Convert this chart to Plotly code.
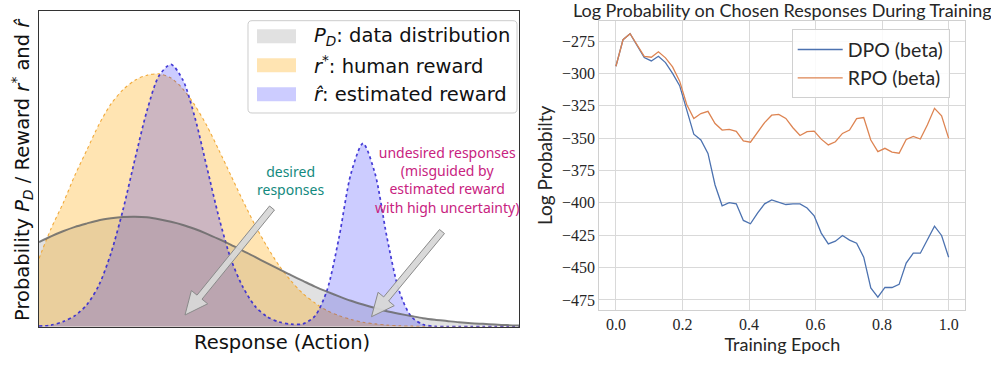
import math
import numpy as np
import plotly.graph_objects as go

W, H = 991, 366

# ---------------- Left panel: conceptual curves (heights) ----------------
response = np.linspace(0, 10, 41)
p_data = [0.268, 0.286, 0.302, 0.316, 0.327, 0.337, 0.343, 0.347, 0.348, 0.346,
          0.340, 0.332, 0.322, 0.309, 0.294, 0.277, 0.259, 0.240, 0.221, 0.201,
          0.182, 0.163, 0.145, 0.127, 0.111, 0.096, 0.082, 0.070, 0.059, 0.049,
          0.041, 0.034, 0.027, 0.022, 0.018, 0.014, 0.011, 0.009, 0.007, 0.005, 0.004]
r_human = [0.216, 0.31, 0.39, 0.48, 0.56, 0.64, 0.705, 0.75, 0.78, 0.796,
           0.800, 0.787, 0.752, 0.70, 0.635, 0.558, 0.478, 0.398, 0.322, 0.254,
           0.194, 0.145, 0.105, 0.075, 0.051, 0.035, 0.023, 0.014, 0.009, 0.005,
           0.003, 0.002, 0.001, 0, 0, 0, 0, 0, 0, 0, 0]
r_est = [0.002, 0.005, 0.016, 0.035, 0.07, 0.132, 0.233, 0.37, 0.531, 0.684,
         0.794, 0.83, 0.78, 0.661, 0.503, 0.345, 0.213, 0.125, 0.065, 0.032,
         0.015, 0.008, 0.009, 0.034, 0.115, 0.282, 0.485, 0.58, 0.485, 0.282,
         0.115, 0.033, 0.007, 0.001, 0, 0, 0, 0, 0, 0, 0]

# ---------------- Right panel: log probability during training ----------------
epoch = np.arange(48) / 47
dpo_logp = [-294.5, -274, -269.4, -278.5, -287.8, -290.4, -286.8, -291.7, -300, -309.5,
            -329, -347, -351.5, -361.8, -386.2, -402.3, -399.8, -400.8, -413.6, -416.2,
            -408, -400.8, -397.7, -399.8, -401.3, -400.8, -400.8, -404, -410, -423.4,
            -431.7, -429.6, -425.2, -428.8, -431.2, -442, -465.8, -472.8, -465.4, -465.4,
            -463, -446.6, -438.9, -438.9, -428.6, -418, -425.2, -442.1]
rpo_logp = [-294.5, -274, -269.4, -278.5, -286.8, -287.5, -283.3, -288, -295, -306,
            -324, -334.8, -331, -329.3, -338.7, -343.8, -343.2, -344.8, -352.2, -353.2,
            -345.3, -338, -332.3, -331.7, -334.8, -342, -348, -345, -344.6, -350.8,
            -355.3, -352.8, -346.4, -343.8, -335, -334.1, -351.5, -360.5, -357.9, -360.8,
            -361.7, -351, -348.7, -350.7, -339.7, -327, -332.8, -350.2]
x_ticks = [0.0, 0.2, 0.4, 0.6, 0.8, 1.0]
x_ticklabels = ["0.0", "0.2", "0.4", "0.6", "0.8", "1.0"]
y_ticks = [-275, -300, -325, -350, -375, -400, -425, -450, -475]
y_ticklabels = ["\u2212275", "\u2212300", "\u2212325", "\u2212350", "\u2212375",
                "\u2212400", "\u2212425", "\u2212450", "\u2212475"]

# ---------------- geometry helpers ----------------
L_X0, L_X1, L_Y0, L_Y1 = 39, 519, 10.7, 326.7   # left plot frame in px
R_X0, R_X1, R_Y0, R_Y1 = 599.3, 965.3, 20.7, 310  # right plot frame in px


def pp(px, py):
    return px / W, 1 - py / H


def to_left_data(px, py):
    return (px - L_X0) / (L_X1 - L_X0) * 10, (L_Y1 - py) / (L_Y1 - L_Y0)


def arrow_path(tail, tip, sw=3.2, hw=10.5, hl=23):
    tx, ty = tail
    hx, hy = tip
    dx, dy = hx - tx, hy - ty
    ln = math.hypot(dx, dy)
    ux, uy = dx / ln, dy / ln
    nx, ny = -uy, ux
    bx, by = hx - ux * hl, hy - uy * hl
    pts = [(tx + nx * sw, ty + ny * sw), (bx + nx * sw, by + ny * sw),
           (bx + nx * hw, by + ny * hw), (hx, hy),
           (bx - nx * hw, by - ny * hw), (bx - nx * sw, by - ny * sw),
           (tx - nx * sw, ty - ny * sw)]
    d = [to_left_data(*p) for p in pts]
    return "M " + " L ".join(f"{x:.4f},{y:.4f}" for x, y in d) + " Z"


def rounded_rect(x0, y0, x1, y1, r):
    def P(x, y):
        a, b = pp(x, y)
        return f"{a:.5f},{b:.5f}"
    return (f"M {P(x0 + r, y0)} L {P(x1 - r, y0)} Q {P(x1, y0)} {P(x1, y0 + r)} "
            f"L {P(x1, y1 - r)} Q {P(x1, y1)} {P(x1 - r, y1)} L {P(x0 + r, y1)} "
            f"Q {P(x0, y1)} {P(x0, y1 - r)} L {P(x0, y0 + r)} Q {P(x0, y0)} {P(x0 + r, y0)} Z")


fig = go.Figure()

# left panel fills
fig.add_trace(go.Scatter(x=response, y=p_data, mode="lines", name="P_D",
                         line=dict(width=0, shape="spline", smoothing=0.8),
                         fill="tozeroy", fillcolor="rgba(128,128,128,0.24)",
                         xaxis="x", yaxis="y", showlegend=False, hoverinfo="skip"))
fig.add_trace(go.Scatter(x=response, y=r_human, mode="lines", name="r*",
                         line=dict(width=1.1, color="rgba(240,165,50,0.95)", dash="dot",
                                   shape="spline", smoothing=0.8),
                         fill="tozeroy", fillcolor="rgba(255,165,0,0.30)",
                         xaxis="x", yaxis="y", showlegend=False))
fig.add_trace(go.Scatter(x=response, y=r_est, mode="lines", name="r_hat",
                         line=dict(width=1.7, color="rgba(50,40,210,0.9)", dash="dot",
                                   shape="spline", smoothing=0.8),
                         fill="tozeroy", fillcolor="rgba(0,0,255,0.20)",
                         xaxis="x", yaxis="y", showlegend=False))
fig.add_trace(go.Scatter(x=response, y=p_data, mode="lines", name="P_D line",
                         line=dict(width=2, color="rgba(105,105,105,0.85)",
                                   shape="spline", smoothing=0.8),
                         xaxis="x", yaxis="y", showlegend=False, hoverinfo="skip"))

# right panel lines
fig.add_trace(go.Scatter(x=epoch, y=dpo_logp, mode="lines", name="DPO (beta)",
                         line=dict(color="#4C72B0", width=1.3), xaxis="x2", yaxis="y2"))
fig.add_trace(go.Scatter(x=epoch, y=rpo_logp, mode="lines", name="RPO (beta)",
                         line=dict(color="#DD8452", width=1.3), xaxis="x2", yaxis="y2"))

shapes = []
# left legend box and patches
shapes.append(dict(type="path", xref="paper", yref="paper",
                   path=rounded_rect(248, 20.7, 517, 113, 4),
                   fillcolor="rgba(255,255,255,0.85)", line=dict(color="#cccccc", width=1)))
patch_cols = ["rgba(128,128,128,0.24)", "rgba(255,165,0,0.30)", "rgba(0,0,255,0.20)"]
for i, c in enumerate(patch_cols):
    yc = 36.3 + 29 * i
    x0p, y0p = pp(257, yc - 7)
    x1p, y1p = pp(296, yc + 7)
    shapes.append(dict(type="rect", xref="paper", yref="paper", x0=x0p, x1=x1p,
                       y0=y1p, y1=y0p, fillcolor=c, line=dict(width=0)))
# arrows
for tail, tip in [((272, 208), (185, 315)), ((442, 231.5), (371.5, 316.7))]:
    shapes.append(dict(type="path", xref="x", yref="y", path=arrow_path(tail, tip),
                       fillcolor="rgba(215,215,215,0.95)",
                       line=dict(color="#8a8a8a", width=1)))

annotations = []
legend_txt = ["<i>P</i><sub><i>D</i></sub>: data distribution",
              "<i>r</i><sup>*</sup>: human reward",
              "<i>r\u0302</i>: estimated reward"]
for i, t in enumerate(legend_txt):
    xa, ya = pp(312, 36.3 + 29 * i)
    annotations.append(dict(text=t, x=xa, y=ya, xref="paper", yref="paper",
                            xanchor="left", yanchor="middle", showarrow=False,
                            font=dict(family="DejaVu Sans", size=19.5, color="#111111")))
xa, ya = pp(22, 170)
annotations.append(dict(text="Probability <i>P</i><sub><i>D</i></sub> / Reward <i>r</i><sup>*</sup> and <i>r\u0302</i>",
                        x=xa, y=ya, xref="paper", yref="paper", textangle=-90,
                        showarrow=False, xanchor="center", yanchor="middle",
                        font=dict(family="DejaVu Sans", size=19.5, color="#111111")))
xa, ya = pp(282, 342)
annotations.append(dict(text="Response (Action)", x=xa, y=ya, xref="paper", yref="paper",
                        showarrow=False, xanchor="center", yanchor="middle",
                        font=dict(family="DejaVu Sans", size=19.5, color="#111111")))
xa, ya = pp(290, 180.5)
annotations.append(dict(text="desired<br>responses", x=xa, y=ya, xref="paper", yref="paper",
                        showarrow=False, xanchor="center", yanchor="middle",
                        font=dict(family="Noto Sans", size=14, color="#138a7e")))
xa, ya = pp(447, 180.5)
annotations.append(dict(text="undesired responses<br>(misguided by<br>estimated reward<br>with high uncertainty)",
                        x=xa, y=ya, xref="paper", yref="paper",
                        showarrow=False, xanchor="center", yanchor="middle",
                        font=dict(family="Noto Sans", size=14, color="#c8237f")))

sans = "Lato"
serif = "Liberation Serif, Times New Roman, serif"

fig.update_layout(
    width=W, height=H, margin=dict(l=0, r=0, t=0, b=0),
    paper_bgcolor="white", plot_bgcolor="rgba(0,0,0,0)",
    shapes=shapes, annotations=annotations,
    xaxis=dict(domain=[L_X0 / W, L_X1 / W], range=[0, 10], anchor="y",
               showticklabels=False, showgrid=False, zeroline=False, ticks="",
               showline=True, mirror=True, linecolor="#333333", linewidth=1.4),
    yaxis=dict(domain=[1 - L_Y1 / H, 1 - L_Y0 / H], range=[0, 1], anchor="x",
               showticklabels=False, showgrid=False, zeroline=False, ticks="",
               showline=True, mirror=True, linecolor="#333333", linewidth=1.4),
    xaxis2=dict(domain=[R_X0 / W, R_X1 / W], range=[-0.05, 1.05], anchor="y2",
                tickvals=x_ticks, ticktext=x_ticklabels, ticks="",
                showgrid=True, gridcolor="#d9d9d9", gridwidth=1, zeroline=False,
                showline=True, mirror=True, linecolor="#d0d0d0", linewidth=1,
                tickfont=dict(family=serif, size=16, color="#262626"),
                title=dict(text="Training Epoch", standoff=0,
                           font=dict(family=sans, size=18, color="#262626"))),
    yaxis2=dict(domain=[1 - R_Y1 / H, 1 - R_Y0 / H], range=[-482.8, -259.3], anchor="x2",
                tickvals=y_ticks, ticktext=y_ticklabels, ticks="",
                showgrid=True, gridcolor="#d9d9d9", gridwidth=1, zeroline=False,
                showline=True, mirror=True, linecolor="#d0d0d0", linewidth=1,
                tickfont=dict(family=serif, size=16, color="#262626"),
                title=dict(text="Log Probabilty", standoff=4,
                           font=dict(family=sans, size=19, color="#262626"))),
    title=dict(text="Log Probability on Chosen Responses During Training",
               x=((R_X0 + R_X1) / 2) / W, xanchor="center", y=1 - 11 / H, yanchor="middle",
               xref="paper", yref="container",
               font=dict(family=sans, size=18, color="#262626")),
    legend=dict(x=791.7 / W, y=1 - 29.3 / H, xanchor="left", yanchor="top",
                bgcolor="rgba(255,255,255,0.85)", bordercolor="#d0d0d0", borderwidth=1,
                itemwidth=45,
                font=dict(family=sans, size=19.5, color="#262626")),
    showlegend=True,
)

fig.write_html("out.html", config={"displayModeBar": False},
               post_script="document.body.style.margin='0';")
